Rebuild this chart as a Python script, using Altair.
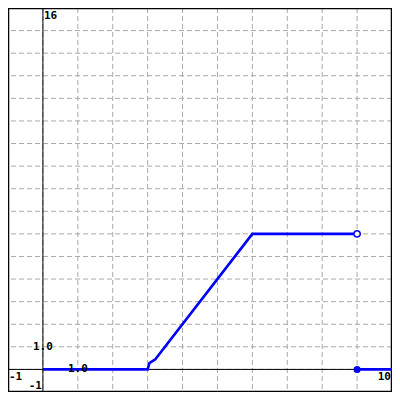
import altair as alt
import pandas as pd

# main curve
curve_x = [0, 3, 3.05, 3.22, 6, 9]
curve_y = [0, 0, 0.28, 0.45, 6, 6]
# tail segment after the jump
tail_x = [9, 10]
tail_y = [0, 0]
# open / closed endpoint markers
open_x, open_y = [9], [6]
dot_x, dot_y = [9], [0]

# grid line positions (interior; edges are the black frame)
grid_xv = list(range(0, 10))
grid_yv = list(range(0, 16))
# frame positions
frame_xv = [-1, 10]
frame_yv = [-1, 16]

# labels
lab_text = ["16", "-1", "-1", "10", "1.0", "1.0"]
lab_x = [0, -1, 0, 10, 0, 1]
lab_y = [16, 0, -1, 0, 1, 0]
lab_align = ["left", "left", "right", "right", "center", "center"]
lab_base = ["top", "top", "bottom", "top", "middle", "middle"]

XMIN, XMAX, YMIN, YMAX = -1, 10, -1, 16
xs = alt.Scale(domain=[XMIN, XMAX], nice=False, zero=False)
ys = alt.Scale(domain=[YMIN, YMAX], nice=False, zero=False)
X = lambda: alt.X("x:Q", scale=xs, axis=None)
Y = lambda: alt.Y("y:Q", scale=ys, axis=None)

curve_df = pd.DataFrame({"x": curve_x, "y": curve_y, "o": range(len(curve_x))})
tail_df = pd.DataFrame({"x": tail_x, "y": tail_y})
open_df = pd.DataFrame({"x": open_x, "y": open_y})
dot_df = pd.DataFrame({"x": dot_x, "y": dot_y})
axes_df = pd.DataFrame({"x": [0], "y": [0]})
gx_df = pd.DataFrame({"x": grid_xv})
gy_df = pd.DataFrame({"y": grid_yv})
fx_df = pd.DataFrame({"x": frame_xv})
fy_df = pd.DataFrame({"y": frame_yv})
lab_df = pd.DataFrame({"t": lab_text, "x": lab_x, "y": lab_y})

GRID = dict(color="#aaaaaa", strokeWidth=1, strokeDash=[5, 3])
gridx = alt.Chart(gx_df).mark_rule(**GRID).encode(x=X())
gridy = alt.Chart(gy_df).mark_rule(**GRID).encode(y=Y())

framex = alt.Chart(fx_df).mark_rule(color="black", strokeWidth=2.5).encode(x=X())
framey = alt.Chart(fy_df).mark_rule(color="black", strokeWidth=2.5).encode(y=Y())

xaxis = alt.Chart(axes_df).mark_rule(color="black", strokeWidth=1).encode(y=Y())
yaxis = alt.Chart(axes_df).mark_rule(color="black", strokeWidth=1).encode(x=X())

curve = alt.Chart(curve_df).mark_line(color="#0000ff", strokeWidth=2.6).encode(
    x=X(), y=Y(), order="o:Q")
tail = alt.Chart(tail_df).mark_line(color="#0000ff", strokeWidth=2.6).encode(
    x=X(), y=Y())
open_pt = alt.Chart(open_df).mark_point(shape="circle", size=40, filled=True,
                                        fill="white", stroke="#0000ff",
                                        strokeWidth=1.5, opacity=1).encode(x=X(), y=Y())
dot_pt = alt.Chart(dot_df).mark_point(shape="circle", size=50, filled=True,
                                      color="#0000ff", opacity=1).encode(x=X(), y=Y())

labels = []
for i in range(len(lab_text)):
    d = lab_df.iloc[[i]]
    labels.append(alt.Chart(d).mark_text(
        font="DejaVu Sans Mono", fontWeight="bold", fontSize=11, color="black",
        align=lab_align[i], baseline=lab_base[i],
        dx=(1 if lab_align[i] == "left" else (-1 if lab_align[i] == "right" else 0)),
        dy=(2 if lab_base[i] == "top" else (-1 if lab_base[i] == "bottom" else 0)),
    ).encode(x=X(), y=Y(), text="t:N"))

chart = alt.layer(gridx, gridy, framex, framey, xaxis, yaxis, curve, tail,
                  open_pt, dot_pt, *labels).properties(
    width=384, height=384, padding=0,
    autosize=alt.AutoSizeParams(type="none"),
).configure_view(stroke=None)

chart.save("out.html", embed_options={"renderer": "svg", "actions": False})
